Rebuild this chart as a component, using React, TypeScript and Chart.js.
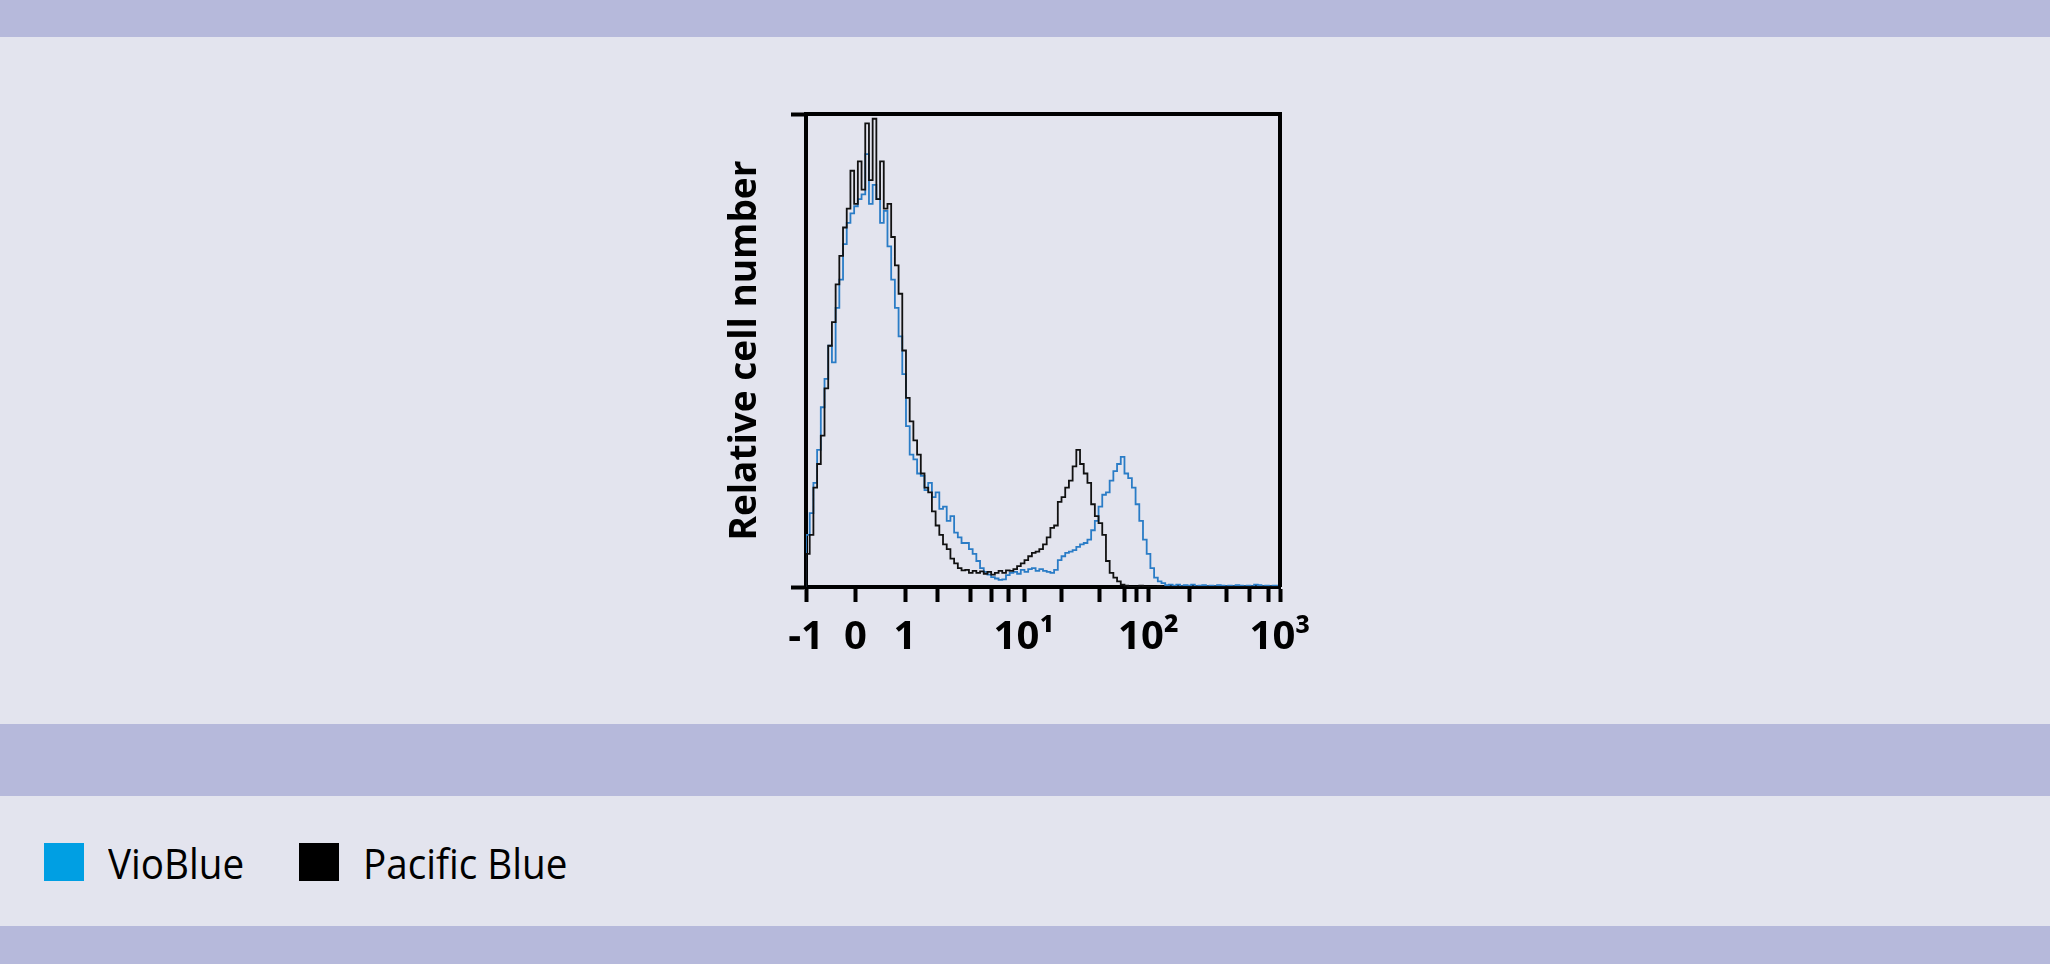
import React, { useEffect, useRef } from 'react';
import { Chart, registerables } from 'chart.js';

Chart.register(...registerables);

// histogram: one value per bin of 8 channels (1024 channels = -1 .. 10^3)
const BIN_WIDTH = 8;

const seriesNames = ['VioBlue', 'Pacific Blue'];
const lineColors = ['#2a7cc6', '#111111'];
const legendColors = ['#009fe3', '#000000'];

const vioBlue = [
  0, 11, 15.6, 22, 29, 38, 44, 51, 47.5, 59,
  65, 72.5, 77, 79, 80.5, 82, 83, 91.5, 81, 85,
  82, 77, 79.5, 72, 65, 59, 53, 45, 34, 28,
  27, 24, 23.5, 20.5, 22, 19, 20, 16.5, 17, 14,
  15, 11.5, 10.5, 9.3, 9.3, 8, 7, 5.5, 4, 3.2,
  2.6, 2.1, 1.8, 1.5, 1.6, 2.5, 3, 3.2, 2.8, 3.6,
  3.2, 3.8, 4, 3.4, 3.8, 3.4, 3.2, 3, 3.6, 5.7,
  6.5, 7.2, 7.5, 7.8, 8.5, 9, 9.3, 10, 12, 14,
  17, 19.5, 20, 22.5, 24.5, 26, 27.5, 24, 23, 21,
  17.5, 14, 10, 7, 4, 2, 1.2, 0.8, 0.4, 0.5,
  0.3, 0.5, 0.2, 0.4, 0.3, 0.5, 0.2, 0.3, 0.4, 0.2,
  0.3, 0.2, 0.4, 0.3, 0.2, 0.3, 0.2, 0.4, 0.3, 0.2,
  0.3, 0.2, 0.5, 0.4, 0.2, 0.3, 0.2, 0.3,
];

const pacificBlue = [
  0, 7, 11, 21, 26, 32, 42, 51, 56, 64,
  70, 76, 80, 88, 81, 90, 84, 98, 86, 99,
  82, 90, 80, 81, 74, 68, 62, 50, 40, 35,
  31, 28, 24, 21, 20, 16, 13, 11, 9, 8,
  6, 5, 4, 3.5, 3.6, 3, 3.4, 3, 3.3, 2.8,
  3.2, 2.6, 3, 3.4, 3, 3.5, 3.4, 3.8, 4.4, 5,
  5.7, 6.5, 7.2, 7.5, 8, 9, 10.5, 12.5, 13, 18,
  19, 21, 22.5, 25.5, 29, 26, 24, 22, 17.5, 15,
  13.5, 11, 5.5, 3, 2, 1.2, 0.5, 0.3, 0, 0,
  0, 0.3, 0, 0, 0, 0, 0.2, 0, 0, 0,
  0, 0, 0, 0, 0, 0, 0, 0, 0, 0,
  0, 0, 0, 0, 0, 0, 0, 0, 0, 0,
  0, 0, 0, 0, 0, 0, 0, 0,
];

// biexponential axis: channel position of each tick mark
const xTickChannels = [0, 107, 214, 285, 356, 400, 437, 471, 553, 633, 687, 713, 740, 829, 909, 959, 1000, 1024];
const xTickLabels = ['-1', '0', '1', '', '', '', '', '10¹', '', '', '', '', '10²', '', '', '', '', '10³'];
const yTickValues = [0, 100];

const FONT = "'Open Sans', 'Noto Sans', sans-serif";
const BAND = '#b6b9db';
const PAGE = '#e3e4ee';

function toSteps(counts: number[]) {
  const pts = counts.map((y, i) => ({ x: i * BIN_WIDTH, y }));
  pts.push({ x: counts.length * BIN_WIDTH, y: counts[counts.length - 1] });
  return pts;
}

// top and right edges of the plot box
const framePlugin = {
  id: 'frame',
  afterDraw(chart: any) {
    const { ctx, chartArea: a } = chart;
    ctx.save();
    ctx.strokeStyle = '#000';
    ctx.lineWidth = 4;
    ctx.beginPath();
    ctx.moveTo(a.left, a.top);
    ctx.lineTo(a.right, a.top);
    ctx.lineTo(a.right, a.bottom);
    ctx.stroke();
    ctx.restore();
  },
};

function Histogram() {
  const canvasRef = useRef<HTMLCanvasElement | null>(null);
  const chartRef = useRef<Chart | null>(null);

  useEffect(() => {
    if (!canvasRef.current) return;
    const axisGrid = {
      drawOnChartArea: false,
      drawTicks: true,
      tickLength: 15,
      tickWidth: 4,
      tickColor: '#000',
      color: '#000',
    };
    const axisBorder = { display: true, color: '#000', width: 4 };

    chartRef.current = new Chart(canvasRef.current, {
      type: 'line',
      data: {
        datasets: [
          {
            label: seriesNames[0],
            data: toSteps(vioBlue),
            borderColor: lineColors[0],
            borderWidth: 1.8,
            stepped: 'after',
            pointRadius: 0,
            fill: false,
            order: 1,
          },
          {
            label: seriesNames[1],
            data: toSteps(pacificBlue),
            borderColor: lineColors[1],
            borderWidth: 1.8,
            stepped: 'after',
            pointRadius: 0,
            fill: false,
            order: 0,
          },
        ],
      },
      options: {
        animation: false,
        responsive: false,
        layout: { padding: { top: 24, right: 80, bottom: 0, left: 0 } },
        plugins: { legend: { display: false }, tooltip: { enabled: false } },
        scales: {
          x: {
            type: 'linear',
            min: 0,
            max: 1024,
            afterBuildTicks: (s: any) => {
              s.ticks = xTickChannels.map((value) => ({ value }));
            },
            afterFit: (s: any) => {
              s.height = 103;
            },
            ticks: {
              autoSkip: false,
              maxRotation: 0,
              padding: 12,
              color: '#000',
              font: { family: FONT, size: 40, weight: 'bold' },
              callback: (v: any) => {
                const i = xTickChannels.indexOf(Number(v));
                return i >= 0 ? xTickLabels[i] : '';
              },
            },
            grid: axisGrid,
            border: axisBorder,
          },
          y: {
            min: 0,
            max: 100,
            afterBuildTicks: (s: any) => {
              s.ticks = yTickValues.map((value) => ({ value }));
            },
            afterFit: (s: any) => {
              s.width = 106;
            },
            ticks: { display: false },
            grid: axisGrid,
            border: axisBorder,
            title: {
              display: true,
              text: 'Relative cell number',
              color: '#000',
              font: { family: FONT, size: 37, weight: 'bold' },
              padding: { top: 23, bottom: 0 },
            },
          },
        },
      },
      plugins: [framePlugin],
    } as any);

    return () => {
      chartRef.current?.destroy();
      chartRef.current = null;
    };
  }, []);

  return (
    <canvas
      ref={canvasRef}
      width={660}
      height={600}
      style={{ position: 'absolute', left: 700, top: 90, width: 660, height: 600 }}
    />
  );
}

export default function App() {
  const legendX = [44, 299];
  return (
    <div style={{ position: 'absolute', left: 0, top: 0, width: 2050, height: 964, background: PAGE, overflow: 'hidden' }}>
      <div style={{ position: 'absolute', left: 0, top: 0, width: 2050, height: 37, background: BAND }} />
      <div style={{ position: 'absolute', left: 0, top: 724, width: 2050, height: 72, background: BAND }} />
      <div style={{ position: 'absolute', left: 0, top: 926, width: 2050, height: 38, background: BAND }} />
      <Histogram />
      {seriesNames.map((name, i) => (
        <React.Fragment key={name}>
          <div
            style={{
              position: 'absolute',
              left: legendX[i],
              top: 843,
              width: 40,
              height: 38,
              background: legendColors[i],
            }}
          />
          <div
            style={{
              position: 'absolute',
              left: legendX[i] + 64,
              top: 842,
              fontFamily: FONT,
              fontSize: 42,
              lineHeight: '42px',
              color: '#000',
              whiteSpace: 'nowrap',
              transform: 'scaleX(0.92)',
              transformOrigin: 'left center',
            }}
          >
            {name}
          </div>
        </React.Fragment>
      ))}
    </div>
  );
}
